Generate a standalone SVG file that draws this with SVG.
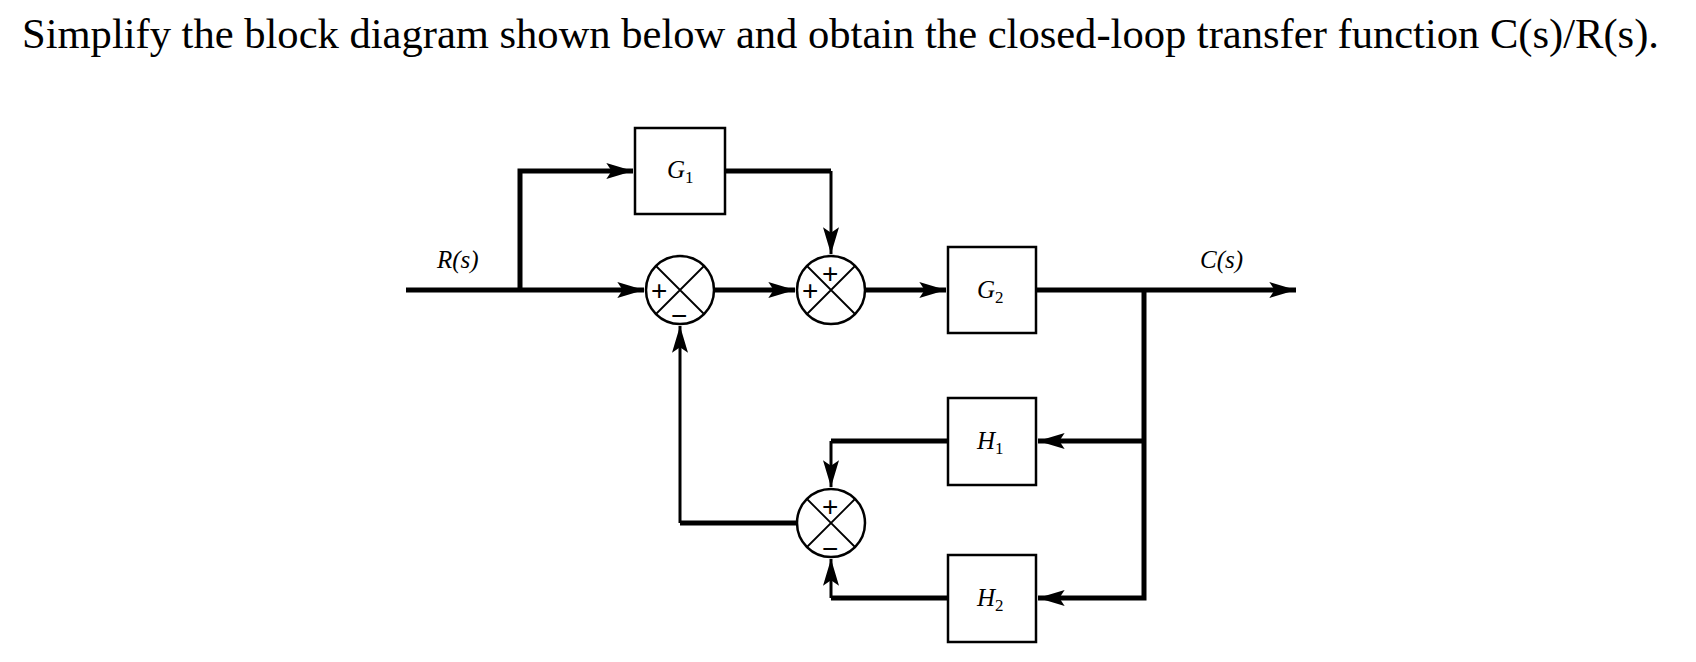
<svg xmlns="http://www.w3.org/2000/svg" width="1696" height="662" viewBox="0 0 1696 662">
<style>
.b{fill:#fff;stroke:#000;stroke-width:2.5}
.w{fill:none;stroke:#000;stroke-width:5}
.t{fill:none;stroke:#000;stroke-width:3}
.x{stroke:#000;stroke-width:1.8}
.lb{font-family:"Liberation Serif",serif;font-style:italic;font-size:25px}
.sg{font-family:"Liberation Sans",sans-serif;font-size:28px}
</style>
<defs>
<marker id="a" viewBox="0 0 10 6" refX="10" refY="3" markerWidth="32" markerHeight="16" markerUnits="userSpaceOnUse" orient="auto"><path d="M0,0L10,3L0,6L2,3z"/></marker>
</defs>
<rect width="1696" height="662" fill="#fff"/>
<text x="22" y="48" font-family="Liberation Serif,serif" font-size="42" textLength="1637" lengthAdjust="spacingAndGlyphs">Simplify the block diagram shown below and obtain the closed-loop transfer function C(s)/R(s).</text>
<g id="connectors">
<path class="w" d="M406,290H644" marker-end="url(#a)"/>
<path class="w" d="M520,290V171H633" marker-end="url(#a)"/>
<path class="w" d="M725,171H831"/><path class="t" d="M831,171V254" marker-end="url(#a)"/>
<path class="w" d="M714,290H795" marker-end="url(#a)"/>
<path class="w" d="M865,290H946" marker-end="url(#a)"/>
<path class="w" d="M1036,290H1296" marker-end="url(#a)"/>
<path class="w" d="M1144,290V598H1038" marker-end="url(#a)"/>
<path class="w" d="M1144,441H1038" marker-end="url(#a)"/>
<path class="w" d="M948,441H831"/><path class="t" d="M831,441V487" marker-end="url(#a)"/>
<path class="w" d="M948,598H831"/><path class="t" d="M831,598V559" marker-end="url(#a)"/>
<path class="w" d="M797,523H680"/><path class="t" d="M680,523V326" marker-end="url(#a)"/>
</g>
<g id="G1"><rect class="b" x="635" y="128" width="90" height="86"/><text class="lb" x="667" y="178">G<tspan font-size="17" font-style="normal" dy="5">1</tspan></text></g>
<g id="G2"><rect class="b" x="948" y="247" width="88" height="86"/><text class="lb" x="977" y="298">G<tspan font-size="17" font-style="normal" dy="5">2</tspan></text></g>
<g id="H1"><rect class="b" x="948" y="398" width="88" height="87"/><text class="lb" x="977" y="449">H<tspan font-size="17" font-style="normal" dy="5">1</tspan></text></g>
<g id="H2"><rect class="b" x="948" y="555" width="88" height="87"/><text class="lb" x="977" y="606">H<tspan font-size="17" font-style="normal" dy="5">2</tspan></text></g>
<g id="S1"><circle class="b" cx="680" cy="290" r="34" stroke-width="3"/><path class="x" d="M656,266L704,314M704,266L656,314"/><text class="sg" x="651" y="300">+</text><text class="sg" x="671" y="325">−</text></g>
<g id="S2"><circle class="b" cx="831" cy="290" r="34" stroke-width="3"/><path class="x" d="M807,266L855,314M855,266L807,314"/><text class="sg" x="802" y="300">+</text><text class="sg" x="822" y="283">+</text></g>
<g id="S3"><circle class="b" cx="831" cy="523" r="34" stroke-width="3"/><path class="x" d="M807,499L855,547M855,499L807,547"/><text class="sg" x="822" y="516">+</text><text class="sg" x="822" y="558">−</text></g>
<g id="labels"><text class="lb" x="437" y="268">R(s)</text><text class="lb" x="1200" y="268">C(s)</text></g>
</svg>
